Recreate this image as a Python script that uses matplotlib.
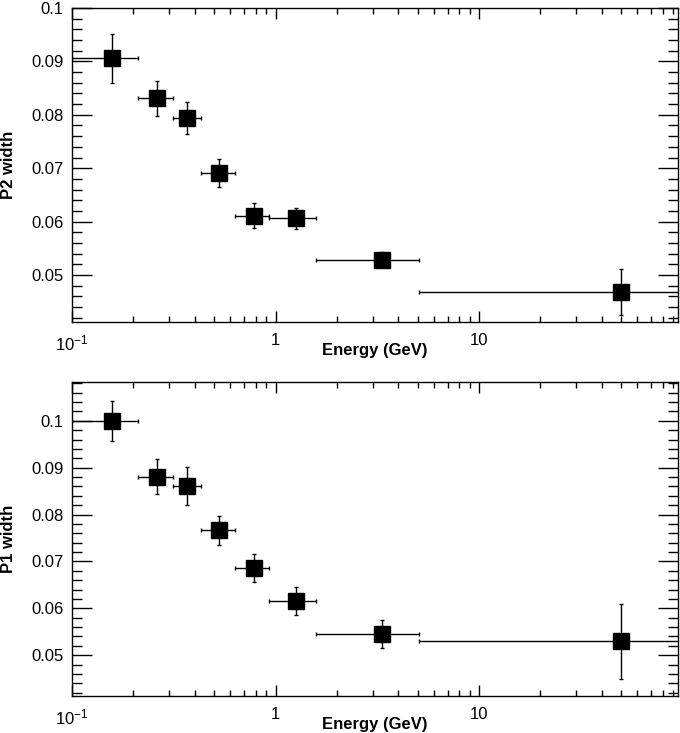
import numpy as np
import matplotlib
matplotlib.use("Agg")
import matplotlib.pyplot as plt
from matplotlib.ticker import MultipleLocator, FixedLocator, FixedFormatter, FuncFormatter

plt.rcParams['font.family'] = ['Liberation Sans', 'DejaVu Sans']
plt.rcParams['mathtext.fontset'] = 'custom'
plt.rcParams['mathtext.rm'] = 'Liberation Sans'
plt.rcParams['mathtext.default'] = 'regular'

# energy bins (GeV): mean energy, lower and upper bin edge
energy = [0.157, 0.26, 0.369, 0.527, 0.783, 1.26, 3.33, 49.7]
e_low = [0.1, 0.21, 0.312, 0.432, 0.634, 0.931, 1.58, 5.05]
e_high = [0.21, 0.312, 0.432, 0.634, 0.931, 1.58, 5.05, 100.0]

# P2 width
p2_width = [0.0906, 0.0831, 0.0794, 0.0691, 0.0611, 0.0606, 0.0529, 0.0469]
p2_err = [0.0046, 0.0033, 0.0030, 0.0026, 0.0023, 0.0020, 0.0014, 0.0043]

# P1 width
p1_width = [0.1000, 0.0881, 0.0861, 0.0767, 0.0686, 0.0615, 0.0546, 0.0530]
p1_err = [0.0043, 0.0037, 0.0040, 0.0031, 0.0030, 0.0030, 0.0030, 0.0080]

x = np.array(energy)
xerr = [x - np.array(e_low), np.array(e_high) - x]

fig = plt.figure(figsize=(6.8, 7.33), dpi=100)
ax_top = fig.add_axes([0.106, 0.5607, 0.891, 0.4284])
ax_bot = fig.add_axes([0.106, 0.0505, 0.891, 0.4284])


def draw_panel(ax, y, yerr, ylabel, ylim):
    ax.errorbar(x, y, xerr=xerr, yerr=yerr, fmt='s', color='black', ms=11.5,
                elinewidth=1.0, capsize=1.5, capthick=1.0, mec='black', mfc='black')
    ax.set_xscale('log')
    ax.set_xlim(0.1, 95)
    ax.set_ylim(*ylim)

    ax.xaxis.set_major_locator(FixedLocator([0.1, 1, 10]))
    ax.xaxis.set_major_formatter(FixedFormatter(['$10^{-1}$', '1', '10']))
    minors = [m * d for d in (0.1, 1, 10) for m in range(2, 10)]
    ax.xaxis.set_minor_locator(FixedLocator(minors))
    ax.yaxis.set_major_locator(MultipleLocator(0.01))
    ax.yaxis.set_minor_locator(MultipleLocator(0.002))
    ax.yaxis.set_major_formatter(FuncFormatter(lambda v, p: '%g' % round(v, 3)))

    ax.tick_params(which='both', direction='in', top=True, right=True, width=1.0,
                   labelsize=12, colors='black')
    ax.tick_params(axis='x', which='major', length=8, pad=8)
    ax.tick_params(axis='x', which='minor', length=4)
    ax.tick_params(axis='y', which='major', length=14.5, pad=6)
    ax.tick_params(axis='y', which='minor', length=7)
    for s in ax.spines.values():
        s.set_linewidth(1.0)

    ax.set_xlabel('Energy (GeV)', fontsize=12, fontweight='bold')
    ax.xaxis.set_label_coords(0.5, -0.066)
    ax.set_ylabel(ylabel, fontsize=12, fontweight='bold')
    ax.yaxis.set_label_coords(-0.093, 0.5)


draw_panel(ax_top, p2_width, p2_err, 'P2 width', (0.0412, 0.1))
draw_panel(ax_bot, p1_width, p1_err, 'P1 width', (0.0413, 0.1083))

fig.savefig('out.png', dpi=100)
